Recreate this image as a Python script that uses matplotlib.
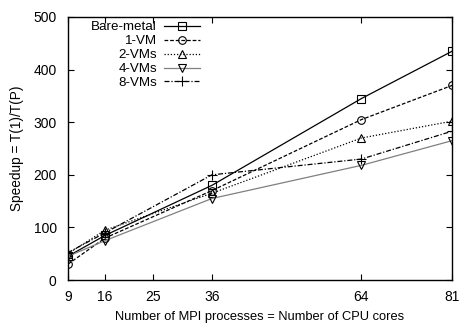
import matplotlib
matplotlib.use("Agg")
import matplotlib.pyplot as plt

plt.rcParams['font.family'] = ['Liberation Sans', 'DejaVu Sans']

cores = [9, 16, 36, 64, 81]
bare_metal = [45, 85, 180, 345, 435]
vm1 = [30, 80, 170, 305, 370]
vm2 = [50, 95, 165, 270, 302]
vm4 = [45, 75, 155, 218, 265]
vm8 = [52, 90, 200, 230, 283]

xticks = [9, 16, 25, 36, 64, 81]

fig = plt.figure(figsize=(4.74, 3.33), dpi=100)
ax = fig.add_axes([0.143, 0.159, 0.811, 0.79])

ax.plot(cores, bare_metal, color='black', lw=0.9, ls='-', marker='s', ms=5.5,
        mfc='none', mec='black', mew=0.8, label='Bare-metal')
ax.plot(cores, vm1, color='black', lw=0.9, ls=(0, (3, 1.5)), marker='o', ms=5.5,
        mfc='none', mec='black', mew=0.8, label='1-VM')
ax.plot(cores, vm2, color='black', lw=0.9, ls=(0, (1, 1.5)), marker='^', ms=5.5,
        mfc='none', mec='black', mew=0.8, label='2-VMs')
ax.plot(cores, vm4, color='#808080', lw=0.9, ls='-', marker='v', ms=5.5,
        mfc='none', mec='black', mew=0.8, label='4-VMs')
ax.plot(cores, vm8, color='black', lw=0.9, ls=(0, (4, 1.5, 1, 1.5)), marker='+', ms=6.5,
        mec='black', mew=0.8, label='8-VMs')

ax.set_xlim(9, 81)
ax.set_ylim(0, 500)
ax.set_xticks(xticks)
ax.set_yticks(range(0, 501, 100))
ax.tick_params(direction='in', top=True, right=True, length=4, width=0.8,
               labelsize=10)
ax.tick_params(axis='y', pad=8)
ax.tick_params(axis='x', pad=7)
for s in ax.spines.values():
    s.set_linewidth(1.0)

ax.set_xlabel('Number of MPI processes = Number of CPU cores', fontsize=9.3, labelpad=5)
ax.set_ylabel('Speedup = T(1)/T(P)', fontsize=9.8, labelpad=7)

ax.legend(loc='upper left', bbox_to_anchor=(0.04, 1.015), frameon=False, markerfirst=False,
          fontsize=9.6, handlelength=2.7, labelspacing=0.12, handletextpad=0.5,
          borderaxespad=0.2)

fig.savefig('out.png', dpi=100)
